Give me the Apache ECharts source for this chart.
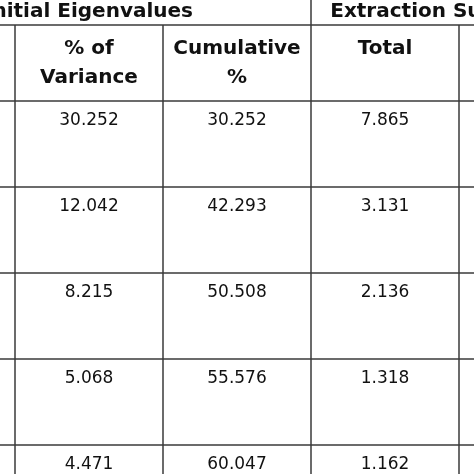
<!DOCTYPE html>
<html>
<head>
<meta charset="utf-8">
<script src="https://cdn.jsdelivr.net/npm/echarts@6/dist/echarts.min.js"></script>
<style>html,body{margin:0;background:#fff}#main{width:474px;height:474px}</style>
</head>
<body>
<div id="main"></div>
<script>
// table values
var colHeaders = ['% of\nVariance', 'Cumulative\n%', 'Total'];
var variance = ['30.252', '12.042', '8.215', '5.068', '4.471'];
var cumulative = ['30.252', '42.293', '50.508', '55.576', '60.047'];
var total = ['7.865', '3.131', '2.136', '1.318', '1.162'];
var groupHeaders = ['Initial Eigenvalues', 'Extraction Sums of Squared Loadings'];

var HEAD_TOP = 0.1163; // top line of column header row (row units)
var FONT = '"DejaVu Sans", sans-serif';

// grid lines: [x1, y1, x2, y2]
var lines = [];
lines.push([-1, HEAD_TOP, 5, HEAD_TOP]);
for (var r = 1; r <= 5; r++) lines.push([-1, r, 5, r]);
[0, 1, 3].forEach(function (c) { lines.push([c, HEAD_TOP, c, 6]); });
lines.push([2, -1, 2, 6]);

// text cells: [x, y, text, bold, align, verticalAlign]
var cells = [];
cells.push([0.5, -0.04, groupHeaders[0], 1, 'center', 'middle']);
cells.push([2.13, -0.04, groupHeaders[1], 1, 'left', 'middle']);
colHeaders.forEach(function (t, i) { cells.push([i + 0.5, 0.23, t, 1, 'center', 'top']); });
[variance, cumulative, total].forEach(function (col, i) {
  col.forEach(function (v, j) { cells.push([i + 0.5, j + 1.23, v, 0, 'center', 'middle']); });
});

var chart = echarts.init(document.getElementById('main'));
chart.setOption({
  animation: false,
  grid: { left: 0, right: 0, top: 0, bottom: 0 },
  xAxis: { type: 'value', min: -15 / 148, max: 459 / 148, show: false },
  yAxis: { type: 'value', inverse: true, min: 1 - 101 / 86, max: 1 + 373 / 86, show: false },
  series: [
    {
      type: 'custom',
      clip: true,
      data: lines,
      renderItem: function (params, api) {
        var a = api.coord([api.value(0), api.value(1)]);
        var b = api.coord([api.value(2), api.value(3)]);
        return { type: 'line', shape: { x1: a[0], y1: a[1], x2: b[0], y2: b[1] },
          style: { stroke: '#3a3a3a', lineWidth: 1.5 } };
      }
    },
    {
      type: 'custom',
      clip: true,
      data: cells,
      dimensions: ['x', 'y', 't', 'b', 'a', 'v'],
      renderItem: function (params, api) {
        var d = cells[params.dataIndex];
        var p = api.coord([d[0], d[1]]);
        return { type: 'text', x: p[0], y: p[1],
          style: { text: d[2], align: d[4], verticalAlign: d[5],
            font: (d[3] ? 'bold 20px ' : '17px ') + FONT, fill: '#111', lineHeight: 29 } };
      }
    }
  ]
});
</script>
</body>
</html>
